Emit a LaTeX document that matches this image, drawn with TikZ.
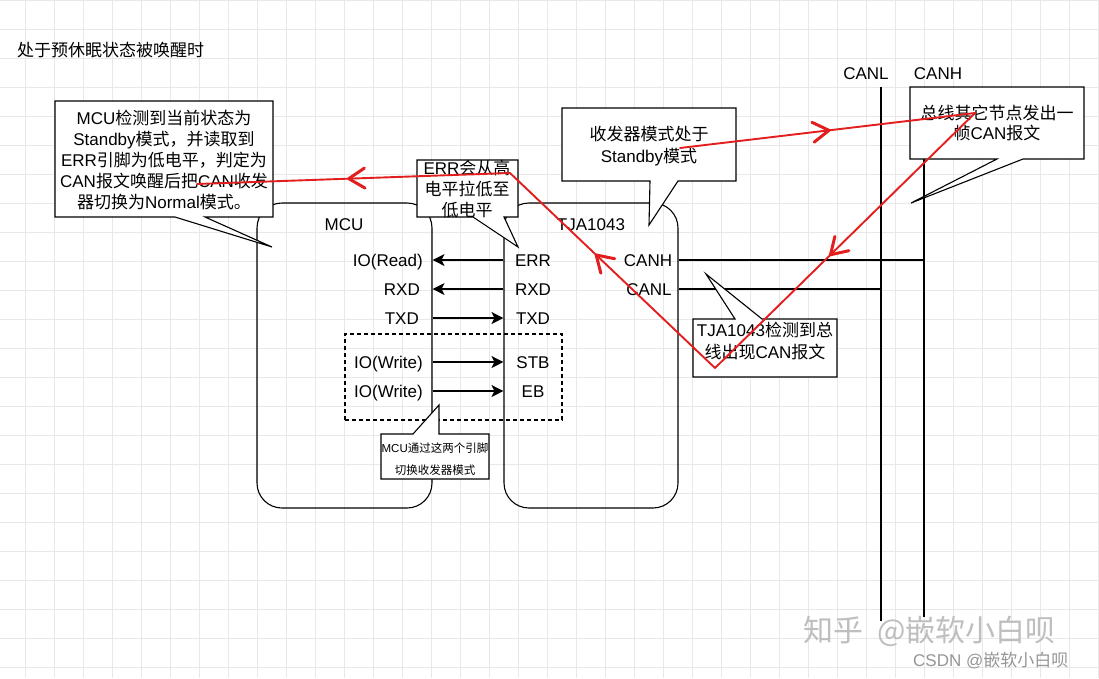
\documentclass[tikz,border=0pt]{standalone}
\usepackage{fontspec}
\setmainfont{Liberation Sans}
\newfontfamily\cjk{Noto Sans CJK SC}
\newcommand\zh[1]{{\cjk #1}}
\usetikzlibrary{arrows.meta,decorations.markings}
\definecolor{gridc}{RGB}{232,232,232}
\definecolor{redc}{RGB}{226,30,30}
\definecolor{wmc}{RGB}{190,190,190}
\definecolor{csdnc}{RGB}{150,150,150}
\begin{document}
\begin{tikzpicture}[x=1pt,y=-1pt,
  gridline/.style={draw=gridc, line width=0.7pt},
  chip/.style={draw, line width=1.1pt, rounded corners=25pt, inner sep=0pt},
  lbl/.style={inner sep=0pt, text height=12.2pt, text depth=0pt, font=\fontsize{17}{21}\selectfont},
  pinarrow/.style={draw, line width=1.1pt, -{Stealth[length=12pt,width=12pt,inset=3pt]}},
  bus/.style={draw, line width=1.2pt},
  dashbox/.style={draw, dash pattern=on 4pt off 3pt, line width=1.1pt, inner sep=0pt},
  callout/.style={draw, fill=white, line width=1.1pt, line join=miter},
  ctext/.style={align=center, inner sep=0pt, font=\fontsize{17}{21}\selectfont},
  redline/.style={draw=redc, line width=1.9pt, line cap=round},
  redmark/.style={postaction={decorate}, decoration={markings, mark=at position #1 with {\arrow[line width=3pt]{Straight Barb[length=16pt,width=20pt,round]}}}}
]
\useasboundingbox (0,0) rectangle (1099,678);
\fill[white] (0,0) rectangle (1099,678);
\foreach \gx in {25,54,...,1099} \draw[gridline] (\gx,0) -- (\gx,678);
\foreach \gy in {0,29,...,678} \draw[gridline] (0,\gy) -- (1099,\gy);

% title
\node[anchor=west, inner sep=0pt, font=\fontsize{17}{21}\cjk] (title) at (17,50) {处于预休眠状态被唤醒时};

% chips
\node[chip, minimum width=175pt, minimum height=305pt] (mcu) at (344.5,355.5) {};
\node[chip, minimum width=174pt, minimum height=305pt] (tja) at (591,355.5) {};
\node[lbl] (mcutitle) at (344,224) {MCU};
\node[lbl] (tjatitle) at (591,224) {TJA1043};

% MCU pins
\node[lbl, anchor=east] (mread) at (423,260) {IO(Read)};
\node[lbl, anchor=east] (mrxd) at (420,289) {RXD};
\node[lbl, anchor=east] (mtxd) at (419,318) {TXD};
\node[lbl, anchor=east] (mw1) at (423,362) {IO(Write)};
\node[lbl, anchor=east] (mw2) at (423,391) {IO(Write)};

% TJA pins
\node[lbl] (terr) at (533,260) {ERR};
\node[lbl] (trxd) at (533,289) {RXD};
\node[lbl] (ttxd) at (533,318) {TXD};
\node[lbl] (tstb) at (533,362) {STB};
\node[lbl] (teb) at (533,391) {EB};
\node[lbl] (tcanh) at (648,260) {CANH};
\node[lbl] (tcanl) at (649,289) {CANL};

\draw[pinarrow] (terr -| tja.west) -- (terr -| mcu.east);
\draw[pinarrow] (trxd -| tja.west) -- (trxd -| mcu.east);
\draw[pinarrow] (ttxd -| mcu.east) -- (ttxd -| tja.west);
\draw[pinarrow] (tstb -| mcu.east) -- (tstb -| tja.west);
\draw[pinarrow] (teb -| mcu.east) -- (teb -| tja.west);

% bus
\coordinate (canlTop) at (881,87);
\coordinate (canlBot) at (881,621);
\coordinate (canhTop) at (924,87);
\coordinate (canhBot) at (924,617);
\draw[bus] (canlTop) -- (canlBot);
\draw[bus] (canhTop) -- (canhBot);
\draw[bus] (tcanh -| tja.east) -- (tcanh -| canhTop);
\draw[bus] (tcanl -| tja.east) -- (tcanl -| canlTop);
\node[lbl] (canlLbl) at (866,73) {CANL};
\node[lbl] (canhLbl) at (938,73) {CANH};

% dashed group
\node[dashbox, minimum width=217pt, minimum height=86pt] (grp) at (453.5,377) {};

% callouts
\path[callout] (55,101) -- (273,101) -- (273,217) -- (205,217) -- (272,247) -- (175,217) -- (55,217) -- cycle;
\path[callout] (562,108) -- (736,108) -- (736,181) -- (678,181) -- (649,225) -- (650,181) -- (562,181) -- cycle;
\path[callout] (417,160) -- (518,160) -- (518,217) -- (504,217) -- (518,247) -- (473,217) -- (417,217) -- cycle;
\path[callout] (910,87) -- (1084,87) -- (1084,159) -- (1023,159) -- (911,203) -- (997,159) -- (910,159) -- cycle;
\path[callout] (693,319) -- (735,319) -- (706,274) -- (762,319) -- (837,319) -- (837,377) -- (693,377) -- cycle;
\path[callout] (381,434) -- (413,434) -- (439,405) -- (439,434) -- (489,434) -- (489,479) -- (381,479) -- cycle;

\node[ctext] (t1) at (164,160) {MCU\zh{检测到当前状态为}\\Standby\zh{模式，并读取到}\\ERR\zh{引脚为低电平，判定为}\\CAN\zh{报文唤醒后把}CAN\zh{收发}\\\zh{器切换为}Normal\zh{模式。}};
\node[ctext, font=\fontsize{17}{22}\selectfont] (t2) at (649,146) {\zh{收发器模式处于}\\Standby\zh{模式}};
\node[ctext] (t3) at (467,189) {ERR\zh{会从高}\\\zh{电平拉低至}\\\zh{低电平}};
\node[ctext, font=\fontsize{17}{20}\selectfont] (t4) at (997,123) {\zh{总线其它节点发出一}\\\zh{帧}CAN\zh{报文}};
\node[ctext, font=\fontsize{17}{22}\selectfont] (t5) at (765,341) {TJA1043\zh{检测到总}\\\zh{线出现}CAN\zh{报文}};
\node[ctext, font=\fontsize{11.5}{22}\selectfont] (t6) at (435,459) {MCU\zh{通过这两个引脚}\\\zh{切换收发器模式}};

% red flow
\coordinate (r1) at (680,148);
\coordinate (r2) at (975,113);
\coordinate (r3) at (715,368);
\coordinate (r4) at (510,173);
\coordinate (r5) at (197,184);
\draw[redline, redmark=0.51] (r1) -- (r2);
\draw[redline, redmark=0.56] (r2) -- (r3);
\draw[redline, redmark=0.585] (r3) -- (r4);
\draw[redline, redmark=0.52] (r4) -- (r5);

% watermark
\node[anchor=west, inner sep=0pt, text=wmc, font=\fontsize{30}{30}\cjk] (wm1) at (803,631) {知乎\hspace{14pt}@嵌软小白呗};
\node[anchor=west, inner sep=0pt, text=csdnc, font=\fontsize{17}{17}\selectfont] (wm2) at (913,660) {CSDN @\zh{嵌软小白呗}};
\end{tikzpicture}
\end{document}
